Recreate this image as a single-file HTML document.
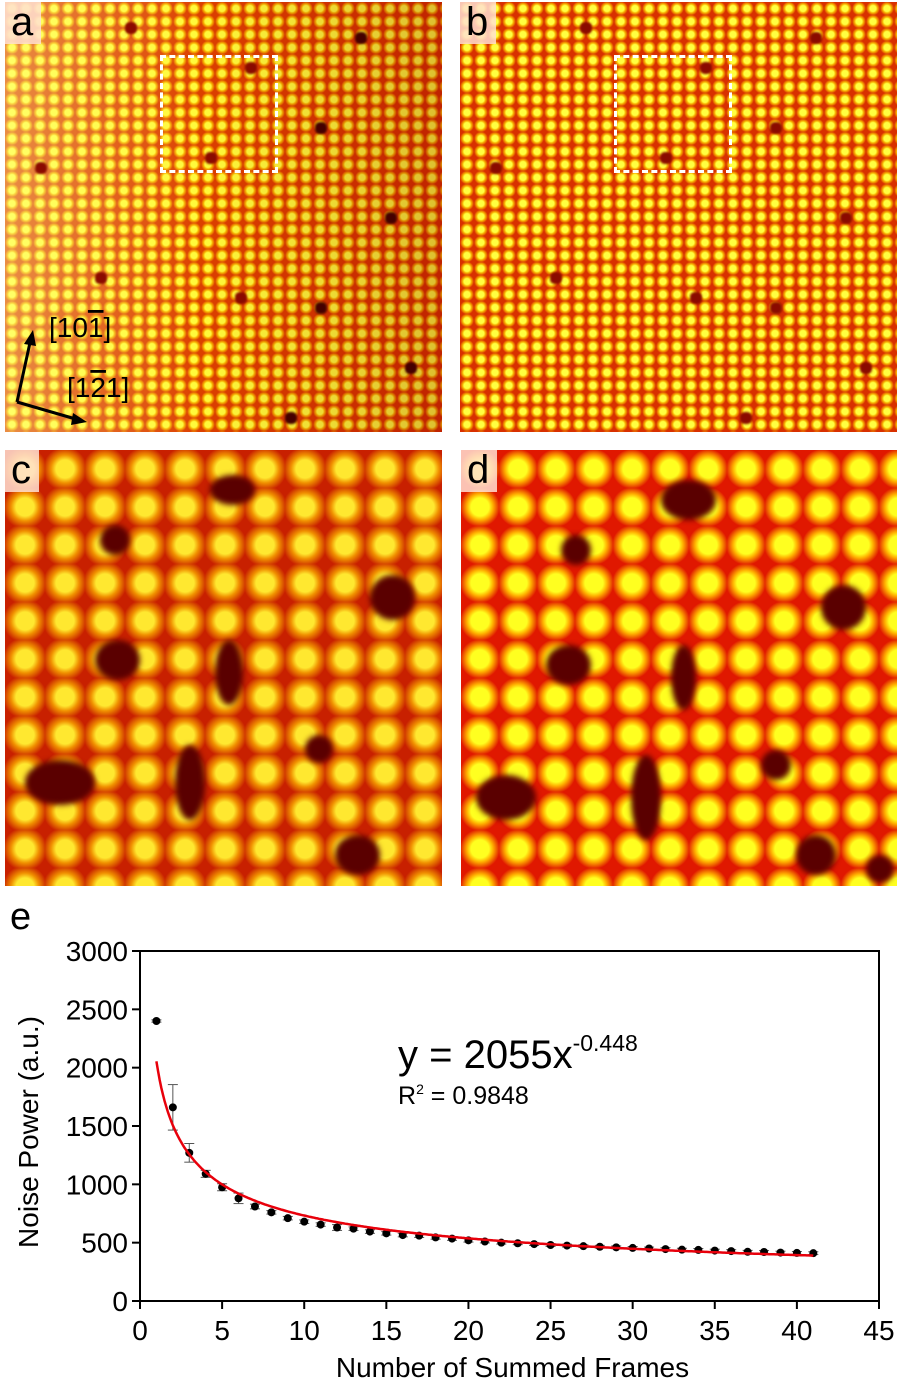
<!DOCTYPE html>
<html><head><meta charset="utf-8">
<style>
body{margin:0;width:898px;height:1382px;background:#fff;position:relative;overflow:hidden;font-family:"Liberation Sans",sans-serif}
.panel{position:absolute;overflow:hidden}
.lbl{position:absolute;left:0;top:0;background:rgba(255,225,210,0.85);font-size:40px;line-height:40px;padding:0 8px 2px 6px;color:#000}
#pa{left:5px;top:2px;width:437px;height:430px;
background:linear-gradient(90deg,rgba(255,255,150,0.45),rgba(255,200,0,0.1) 45%,rgba(120,0,0,0.25)),
radial-gradient(circle,#ffff40 0 3px,#f8b000 4.5px,#d83000 7px) 0 0/14px 13px,#d83000}
#pb{left:460px;top:2px;width:437px;height:430px;
background:radial-gradient(circle,#ffff40 0 3px,#f8b000 4.5px,#d83000 7px) 0 0/14px 13px,#d83000}
#pc{left:5px;top:450px;width:437px;height:436px;
background:radial-gradient(circle,#ffe830 0 9px,#f09000 14px,#c82000 22px) 0 0/40px 38px,#c82000}
#pd{left:461px;top:450px;width:436px;height:436px;
background:radial-gradient(circle,#ffff20 0 9px,#ffb000 13px,#e01800 20px) 0 0/38px 38px,#e01800}
.def{position:absolute;background:#5a0000;border-radius:50%;filter:blur(3px)}
.sd{position:absolute;background:#8a0a00;border-radius:40%;width:12px;height:12px;filter:blur(1px)}
</style></head><body>
<div class="panel" id="pa">
<div class="sd" style="left:120px;top:20px"></div><div class="sd" style="left:240px;top:60px"></div>
<div class="sd" style="left:350px;top:30px;background:#400"></div><div class="sd" style="left:30px;top:160px"></div>
<div class="sd" style="left:200px;top:150px"></div><div class="sd" style="left:310px;top:120px;background:#400"></div>
<div class="sd" style="left:90px;top:270px"></div><div class="sd" style="left:230px;top:290px"></div>
<div class="sd" style="left:310px;top:300px;background:#400"></div><div class="sd" style="left:380px;top:210px;background:#400"></div>
<div class="sd" style="left:280px;top:410px;background:#400"></div><div class="sd" style="left:400px;top:360px;background:#400"></div>
<div class="lbl">a</div>
<div style="position:absolute;left:155px;top:53px;width:112px;height:112px;border:3px dashed #fff"></div>
<svg style="position:absolute;left:0;top:300px" width="160" height="130">
<line x1="12" y1="100" x2="26" y2="36" stroke="#000" stroke-width="3"/><polygon points="28,28 19,42 31,44" fill="#000"/>
<line x1="12" y1="100" x2="74" y2="118" stroke="#000" stroke-width="3"/><polygon points="82,120 68,111 66,123" fill="#000"/>
<text x="44" y="35" font-size="28" font-family="Liberation Sans">[10<tspan text-decoration="overline">1</tspan>]</text>
<text x="62" y="95" font-size="28" font-family="Liberation Sans">[1<tspan text-decoration="overline">2</tspan>1]</text>
</svg>
</div>
<div class="panel" id="pb">
<div class="sd" style="left:120px;top:20px"></div><div class="sd" style="left:240px;top:60px"></div>
<div class="sd" style="left:350px;top:30px"></div><div class="sd" style="left:30px;top:160px"></div>
<div class="sd" style="left:200px;top:150px"></div><div class="sd" style="left:310px;top:120px"></div>
<div class="sd" style="left:90px;top:270px"></div><div class="sd" style="left:230px;top:290px"></div>
<div class="sd" style="left:310px;top:300px"></div><div class="sd" style="left:380px;top:210px"></div>
<div class="sd" style="left:280px;top:410px"></div><div class="sd" style="left:400px;top:360px"></div>
<div class="lbl">b</div>
<div style="position:absolute;left:154px;top:53px;width:112px;height:112px;border:3px dashed #fff"></div>
</div>
<div class="panel" id="pc">
<div class="def" style="left:205px;top:25px;width:45px;height:30px"></div>
<div class="def" style="left:95px;top:75px;width:30px;height:30px"></div>
<div class="def" style="left:90px;top:190px;width:45px;height:40px"></div>
<div class="def" style="left:210px;top:190px;width:28px;height:65px"></div>
<div class="def" style="left:365px;top:125px;width:45px;height:45px"></div>
<div class="def" style="left:20px;top:310px;width:70px;height:45px"></div>
<div class="def" style="left:170px;top:295px;width:30px;height:75px"></div>
<div class="def" style="left:300px;top:285px;width:28px;height:28px"></div>
<div class="def" style="left:330px;top:385px;width:45px;height:40px"></div>
<div class="lbl">c</div>
</div>
<div class="panel" id="pd">
<div class="def" style="left:200px;top:30px;width:55px;height:40px"></div>
<div class="def" style="left:100px;top:85px;width:30px;height:30px"></div>
<div class="def" style="left:360px;top:135px;width:45px;height:45px"></div>
<div class="def" style="left:85px;top:195px;width:45px;height:40px"></div>
<div class="def" style="left:210px;top:195px;width:25px;height:65px"></div>
<div class="def" style="left:15px;top:325px;width:60px;height:45px"></div>
<div class="def" style="left:170px;top:305px;width:30px;height:85px"></div>
<div class="def" style="left:300px;top:300px;width:30px;height:30px"></div>
<div class="def" style="left:335px;top:385px;width:40px;height:40px"></div>
<div class="def" style="left:405px;top:405px;width:28px;height:28px"></div>
<div class="lbl">d</div>
</div>

<div style="position:absolute;left:10px;top:896px;font-size:38px">e</div>
<svg id="chart" style="position:absolute;left:0;top:0" width="898" height="1382"></svg>
<script>
const frames=[1,2,3,4,5,6,7,8,9,10,11,12,13,14,15,16,17,18,19,20,21,22,23,24,25,26,27,28,29,30,31,32,33,34,35,36,37,38,39,40,41];
const noise=[2400,1660,1270,1090,975,880,810,760,710,680,655,630,620,595,580,565,560,545,535,520,510,500,495,488,480,475,470,465,460,455,450,445,440,438,432,428,422,420,415,412,410];
const errs=[10,195,80,30,30,45,20,15,15,15,15,25,15,15,15,15,15,15,15,15,12,12,12,12,12,12,12,12,12,12,12,12,12,12,12,12,12,12,12,12,12];
const fitA=[2055], fitB=[-0.448];
const xTicks=[0,5,10,15,20,25,30,35,40,45];
const yTicks=[0,500,1000,1500,2000,2500,3000];
const NS='http://www.w3.org/2000/svg';
const svg=document.getElementById('chart');
const L=140,R=879,T=951,B=1301;
const sx=v=>L+(v-0)/(45-0)*(R-L);
const sy=v=>B-(v-0)/(3000-0)*(B-T);
function mk(tag,attrs,parent){const e=document.createElementNS(NS,tag);for(const k in attrs)e.setAttribute(k,attrs[k]);(parent||svg).appendChild(e);return e;}
const frame=mk('rect',{x:L,y:T,width:R-L,height:B-T,fill:'none',stroke:'#000','stroke-width':2});


xTicks.forEach(t=>{
 const l=mk('line',{x1:sx(t),x2:sx(t),y1:B,y2:B+8,stroke:'#000','stroke-width':2});
 
 
 const tx=mk('text',{x:sx(t),y:B+39,'text-anchor':'middle','font-size':28,'font-family':'Liberation Sans Narrow, Liberation Sans'});
 tx.textContent=t;
 
 
});
yTicks.forEach(t=>{
 const l=mk('line',{x1:L-8,x2:L,y1:sy(t),y2:sy(t),stroke:'#000','stroke-width':2});
 
 
 const tx=mk('text',{x:L-12,y:sy(t)+10,'text-anchor':'end','font-size':28,'font-family':'Liberation Sans Narrow, Liberation Sans'});
 tx.textContent=t;
 
 
});
const xt=mk('text',{x:(L+R)/2+3,y:1377,'text-anchor':'middle','font-size':28,'font-family':'Liberation Sans Narrow, Liberation Sans'});
xt.textContent='Number of Summed Frames';


const yt=mk('text',{x:0,y:0,'text-anchor':'middle','font-size':28,'font-family':'Liberation Sans',transform:`translate(38,${(T+B)/2+6}) rotate(-90)`});
yt.textContent='Noise Power (a.u.)';


frames.forEach((f,i)=>{
 const x=sx(f),y1=sy(noise[i]-errs[i]),y2=sy(noise[i]+errs[i]);
 const g=mk('g',{});
 
 
 mk('line',{x1:x,x2:x,y1:y1,y2:y2,stroke:'#555','stroke-width':1},g);
 mk('line',{x1:x-5,x2:x+5,y1:y1,y2:y1,stroke:'#555','stroke-width':1},g);
 mk('line',{x1:x-5,x2:x+5,y1:y2,y2:y2,stroke:'#555','stroke-width':1},g);
 mk('circle',{cx:x,cy:sy(noise[i]),r:4,fill:'#000'},g);
});
let d='';
for(let f=frames[0];f<=frames[frames.length-1]+0.001;f+=0.1){d+=(d?'L':'M')+sx(f).toFixed(1)+','+sy(fitA[0]*Math.pow(f,fitB[0])).toFixed(1);}
const fit=mk('path',{d:d,fill:'none',stroke:'#e8000b','stroke-width':2.5});


const eq=mk('text',{x:398,y:1068,'font-size':40,'font-family':'Liberation Sans'});
eq.innerHTML='y = 2055x<tspan dy="-17" font-size="23">-0.448</tspan>';


const r2=mk('text',{x:398,y:1104,'font-size':25,'font-family':'Liberation Sans'});
r2.innerHTML='R<tspan dy="-10" font-size="14">2</tspan><tspan dy="10"> = 0.9848</tspan>';


</script>
</body></html>
